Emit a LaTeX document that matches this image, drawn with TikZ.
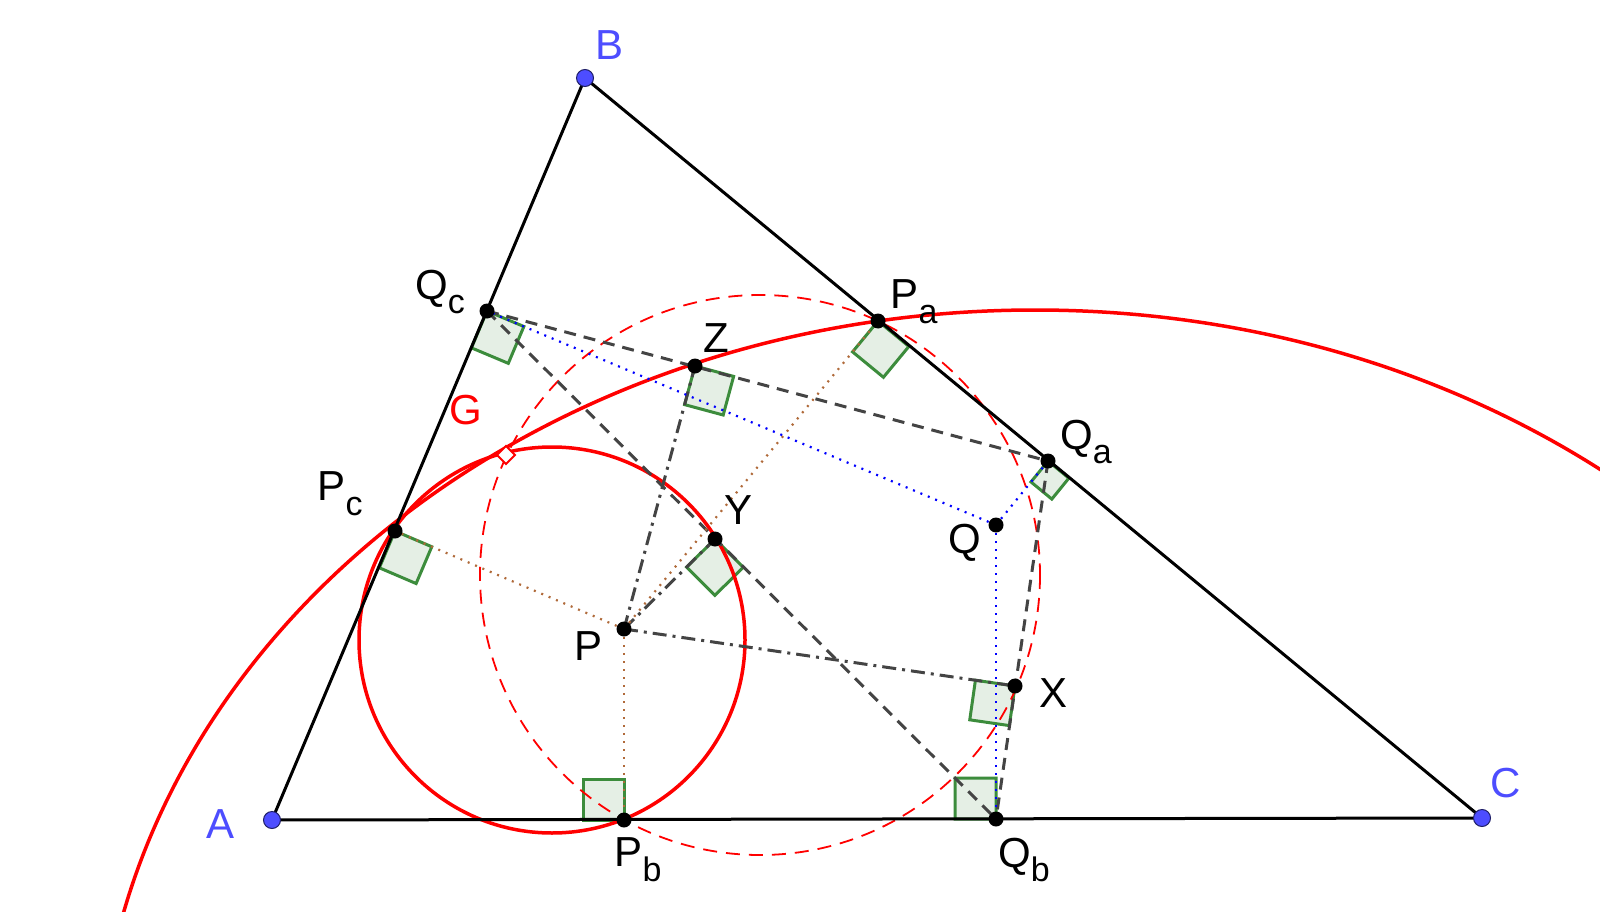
\documentclass[tikz,border=0pt]{standalone}
\usepackage{fontspec}
\setmainfont{Liberation Sans}
\usetikzlibrary{calc}
\definecolor{ptblue}{HTML}{4D4DFF}
\definecolor{sqgreen}{HTML}{3C8C3C}
\definecolor{sqfill}{HTML}{E5EFE5}
\definecolor{brownd}{HTML}{B06A3A}
\definecolor{dgray}{HTML}{444444}
\tikzset{
  tri/.style={line width=3pt,black},
  redc/.style={line width=3.5pt,red},
  reddash/.style={line width=1.8pt,red,dash pattern=on 14pt off 9pt},
  gdash/.style={line width=3pt,dgray,dash pattern=on 12pt off 8pt},
  gdashdot/.style={line width=3pt,dgray,dash pattern=on 14pt off 6pt on 3pt off 6pt},
  bdot/.style={line width=2.2pt,blue,dash pattern=on 2pt off 6pt},
  brdot/.style={line width=2.2pt,brownd,dash pattern=on 2pt off 6pt},
  ra/.style={line width=3pt,sqgreen,fill=sqfill,line join=miter},
  pt/.style={circle,fill=black,inner sep=0pt,minimum size=15pt},
  bpt/.style={circle,fill=ptblue,draw=black!60!ptblue,line width=1pt,inner sep=0pt,minimum size=17pt},
  lab/.style={font=\fontsize{42}{46}\selectfont},
  blab/.style={font=\fontsize{42}{46}\selectfont,text=ptblue}
}
\newcommand\sbs[1]{\raisebox{-0.35em}{\fontsize{34}{36}\selectfont #1}}
\newcommand\rang[4]{%
  \coordinate (ru) at ($(#1)!#4!(#2)$);
  \coordinate (rv) at ($(#1)!#4!(#3)$);
  \draw[ra] (#1) -- (ru) -- ($(ru)+(rv)-(#1)$) -- (rv) -- cycle;}
\begin{document}
\begin{tikzpicture}[x=1pt,y=-1pt]
\useasboundingbox (0,0) rectangle (1600,912);
\coordinate (A) at (272,820);
\coordinate (B) at (585,78);
\coordinate (C) at (1482,818);
\coordinate (Qc) at (487,311);
\coordinate (Pa) at (878,321);
\coordinate (Z) at (695,366);
\coordinate (Qa) at (1048,461);
\coordinate (Pc) at (395,531);
\coordinate (Y) at (715,539);
\coordinate (Q) at (996,525);
\coordinate (P) at (624,629);
\coordinate (X) at (1015,686);
\coordinate (Pb) at (624,820);
\coordinate (Qb) at (996,819);
% right angle markers
\rang{Qc}{A}{Q}{40pt}
\rang{Pa}{P}{C}{40pt}
\rang{Z}{P}{Qa}{40pt}
\rang{Qa}{Q}{C}{27pt}
\rang{Pc}{P}{A}{40pt}
\rang{Y}{P}{Qb}{40pt}
\rang{X}{P}{Qb}{40pt}
\rang{Qb}{Q}{A}{41pt}
\rang{Pb}{P}{A}{41pt}
% dashed circle
\draw[reddash] (760,575) circle [radius=280];
% conic G
\begin{scope}
\clip (0,0) rectangle (1600,912);
\draw[redc] (1035,1100) ellipse [x radius=938, y radius=790];
\end{scope}
\draw[redc] (552,640) circle [radius=193];
\draw[red,line width=2pt,fill=white] (506,446) -- (515,455) -- (506,464) -- (497,455) -- cycle;
% triangle
\draw[tri] (A) -- (B) -- (C) -- cycle;
% lines
\draw[gdash] (Qc) -- (Qa);
\draw[gdash] (Qc) -- (Qb);
\draw[gdash] (Qa) -- (Qb);
\draw[gdashdot] (P) -- (X);
\draw[gdashdot] (P) -- (Y);
\draw[gdashdot] (P) -- (Z);
\draw[brdot] (P) -- (Pa);
\draw[brdot] (P) -- (Pb);
\draw[brdot] (P) -- (Pc);
\draw[bdot] (Q) -- (Qa);
\draw[bdot] (Q) -- (Qb);
\draw[bdot] (Q) -- (Qc);
% points
\foreach \p in {Qc,Pa,Z,Qa,Pc,Y,Q,P,X,Pb,Qb} \node[pt] (n\p) at (\p) {};
\node[bpt] (nA) at (A) {};
\node[bpt] (nB) at (B) {};
\node[bpt] (nC) at (C) {};
% labels
\node[blab] (lA) at (221,824) {A};
\node[blab] (lB) at (609,45) {B};
\node[blab] (lC) at (1506,783) {C};
\node[lab] (lQc) at (440,292) {Q\sbs{c}};
\node[lab] (lPa) at (914,302) {P\sbs{a}};
\node[lab] (lZ) at (716,338) {Z};
\node[lab] (lQa) at (1086,442) {Q\sbs{a}};
\node[lab] (lPc) at (340,494) {P\sbs{c}};
\node[lab] (lY) at (738,510) {Y};
\node[lab] (lQ) at (965,543) {Q};
\node[lab] (lP) at (588,646) {P};
\node[lab] (lX) at (1053,693) {X};
\node[lab] (lPb) at (638,860) {P\sbs{b}};
\node[lab] (lQb) at (1024,860) {Q\sbs{b}};
\node[lab,text=red] (lG) at (466,410) {G};
\end{tikzpicture}
\end{document}
